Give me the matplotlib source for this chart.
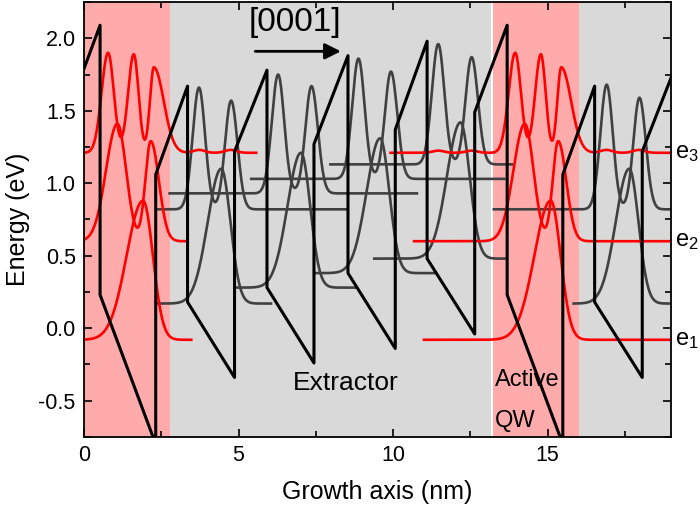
import numpy as np
import matplotlib.pyplot as plt
from matplotlib.ticker import MultipleLocator

plt.rcParams['font.family'] = ['Liberation Sans', 'DejaVu Sans']
plt.rcParams['axes.unicode_minus'] = False
plt.rcParams['mathtext.fontset'] = 'custom'
plt.rcParams['mathtext.rm'] = 'Liberation Sans'
plt.rcParams['mathtext.it'] = 'Liberation Sans'

# conduction band profile (vertices, nm / eV)
band_x = [0, 0.52, 0.52, 2.32, 2.32, 3.35, 3.35, 4.87, 4.87, 5.92, 5.92, 7.44, 7.44,
          8.54, 8.54, 10.07, 10.07, 11.10, 11.10, 12.64, 12.64, 13.69, 13.69, 15.49,
          15.49, 16.52, 16.52, 18.06, 18.06, 19.2]
band_e = [1.79, 2.09, 0.23, -0.80, 1.06, 1.67, 0.18, -0.34, 1.22, 1.78, 0.28, -0.24, 1.27,
          1.88, 0.38, -0.14, 1.37, 1.98, 0.48, -0.04, 1.49, 2.09, 0.23, -0.80,
          1.06, 1.67, 0.18, -0.34, 1.22, 1.84]

# layers: active QW / extractor
layer_start = [-1.0, 2.79, 13.22, 16.02]
layer_end = [2.78, 13.17, 16.02, 20.0]
layer_kind = ['qw', 'ext', 'qw', 'ext']

# wavefunctions |psi|^2 : level, plotted range, lobes (centre, height, left width, right width)
wf_kind = ['qw', 'qw', 'qw', 'qw', 'qw', 'qw',
           'ext', 'ext', 'ext', 'ext', 'ext',
           'ext', 'ext', 'ext', 'ext', 'ext']
wf_level = [-0.08, 0.60, 1.21, -0.08, 0.60, 1.21,
            0.17, 0.28, 0.38, 0.48, 0.17,
            0.82, 0.93, 1.03, 1.13, 0.82]
wf_xmin = [-1.5, -1.5, -1.5, 11.0, 10.68, 9.92,
           2.34, 4.87, 7.50, 9.39, 15.84,
           2.37, 2.77, 5.41, 7.97, 13.26]
wf_xmax = [3.47, 3.30, 5.57, 19.5, 19.5, 19.5,
           6.05, 8.80, 11.38, 13.63, 19.5,
           8.47, 10.77, 13.60, 13.84, 19.5]
wf_lobes = [
    [(1.91, 0.96, 0.75, 0.45)],
    [(1.08, 0.81, 0.52, 0.40), (2.16, 0.69, 0.25, 0.37)],
    [(0.78, 0.69, 0.30, 0.26), (1.61, 0.68, 0.26, 0.22), (2.26, 0.59, 0.18, 0.45),
     (3.72, 0.02, 0.26, 0.26), (4.74, 0.02, 0.26, 0.26)],
    [(15.10, 0.96, 0.75, 0.45)],
    [(14.26, 0.81, 0.52, 0.40), (15.34, 0.69, 0.25, 0.37)],
    [(11.46, 0.015, 0.26, 0.26), (12.54, 0.015, 0.26, 0.26),
     (13.95, 0.69, 0.30, 0.26), (14.78, 0.68, 0.26, 0.22), (15.44, 0.59, 0.18, 0.45),
     (16.90, 0.02, 0.26, 0.26), (17.95, 0.02, 0.26, 0.26)],
    [(4.44, 0.93, 0.62, 0.42)],
    [(7.02, 0.93, 0.62, 0.42)],
    [(9.58, 0.93, 0.62, 0.42)],
    [(12.18, 0.94, 0.62, 0.42)],
    [(17.64, 0.93, 0.62, 0.42)],
    [(3.72, 0.84, 0.29, 0.28), (4.76, 0.75, 0.28, 0.29)],
    [(6.28, 0.82, 0.29, 0.28), (7.36, 0.74, 0.28, 0.29)],
    [(8.88, 0.83, 0.29, 0.28), (9.93, 0.74, 0.28, 0.29)],
    [(11.46, 0.83, 0.29, 0.28), (12.54, 0.74, 0.28, 0.29)],
    [(16.91, 0.86, 0.29, 0.28), (17.97, 0.77, 0.28, 0.29)],
]

level_labels = ['e$_1$', 'e$_2$', 'e$_3$']
level_values = [-0.08, 0.60, 1.21]


def lobe(x, c, a, wl, wr):
    w = np.where(x < c, wl, wr)
    return a * np.exp(-((x - c) / w) ** 2)


fig = plt.figure(figsize=(7, 5.11), dpi=100)
ax = fig.add_axes([0.12, 0.145, 0.839, 0.851])

shade = {'qw': '#ffabab', 'ext': '#d9d9d9'}
for x0, x1, k in zip(layer_start, layer_end, layer_kind):
    ax.axvspan(x0, x1, color=shade[k], lw=0, zorder=0)

line_col = {'qw': '#ff0000', 'ext': '#404040'}
# grey first, red above
order = [i for i in range(len(wf_kind)) if wf_kind[i] == 'ext'] + \
        [i for i in range(len(wf_kind)) if wf_kind[i] == 'qw']
for i in order:
    xs = np.linspace(wf_xmin[i], wf_xmax[i], 800)
    ys = np.full_like(xs, wf_level[i])
    for c, a, wl, wr in wf_lobes[i]:
        ys = ys + lobe(xs, c, a, wl, wr)
    ax.plot(xs, ys, color=line_col[wf_kind[i]], lw=1.9,
            zorder=3 if wf_kind[i] == 'qw' else 2)

ax.plot(band_x, band_e, color='black', lw=2.2, zorder=4)

ax.annotate('', xy=(8.40, 1.91), xytext=(5.45, 1.91),
            arrowprops=dict(arrowstyle='-|>', lw=2, color='black', mutation_scale=24))
ax.text(6.82, 2.11, '[0001]', fontsize=24, ha='center', va='center')
ax.text(8.47, -0.38, 'Extractor', fontsize=19, ha='center', va='center')
ax.text(13.3, -0.36, 'Active', fontsize=17, ha='left', va='center')
ax.text(13.3, -0.64, 'QW', fontsize=17, ha='left', va='center')

for lab, val in zip(level_labels, level_values):
    ax.text(19.12, val, lab, fontsize=17, ha='left', va='center', clip_on=False)

ax.set_xlim(0, 19)
ax.set_ylim(-0.75, 2.25)
ax.xaxis.set_major_locator(MultipleLocator(5))
ax.xaxis.set_minor_locator(MultipleLocator(2.5))
ax.yaxis.set_major_locator(MultipleLocator(0.5))
ax.yaxis.set_minor_locator(MultipleLocator(0.25))
ax.tick_params(which='both', direction='in', top=True, right=True, width=1.2)
ax.tick_params(which='major', length=6, labelsize=15.5, pad=6)
ax.tick_params(which='minor', length=4)
for s in ax.spines.values():
    s.set_linewidth(1.3)
    s.set_zorder(5)

ax.set_xlabel('Growth axis (nm)', fontsize=18, labelpad=10)
ax.set_ylabel('Energy (eV)', fontsize=18, labelpad=6)

fig.savefig('out.png', dpi=100)
